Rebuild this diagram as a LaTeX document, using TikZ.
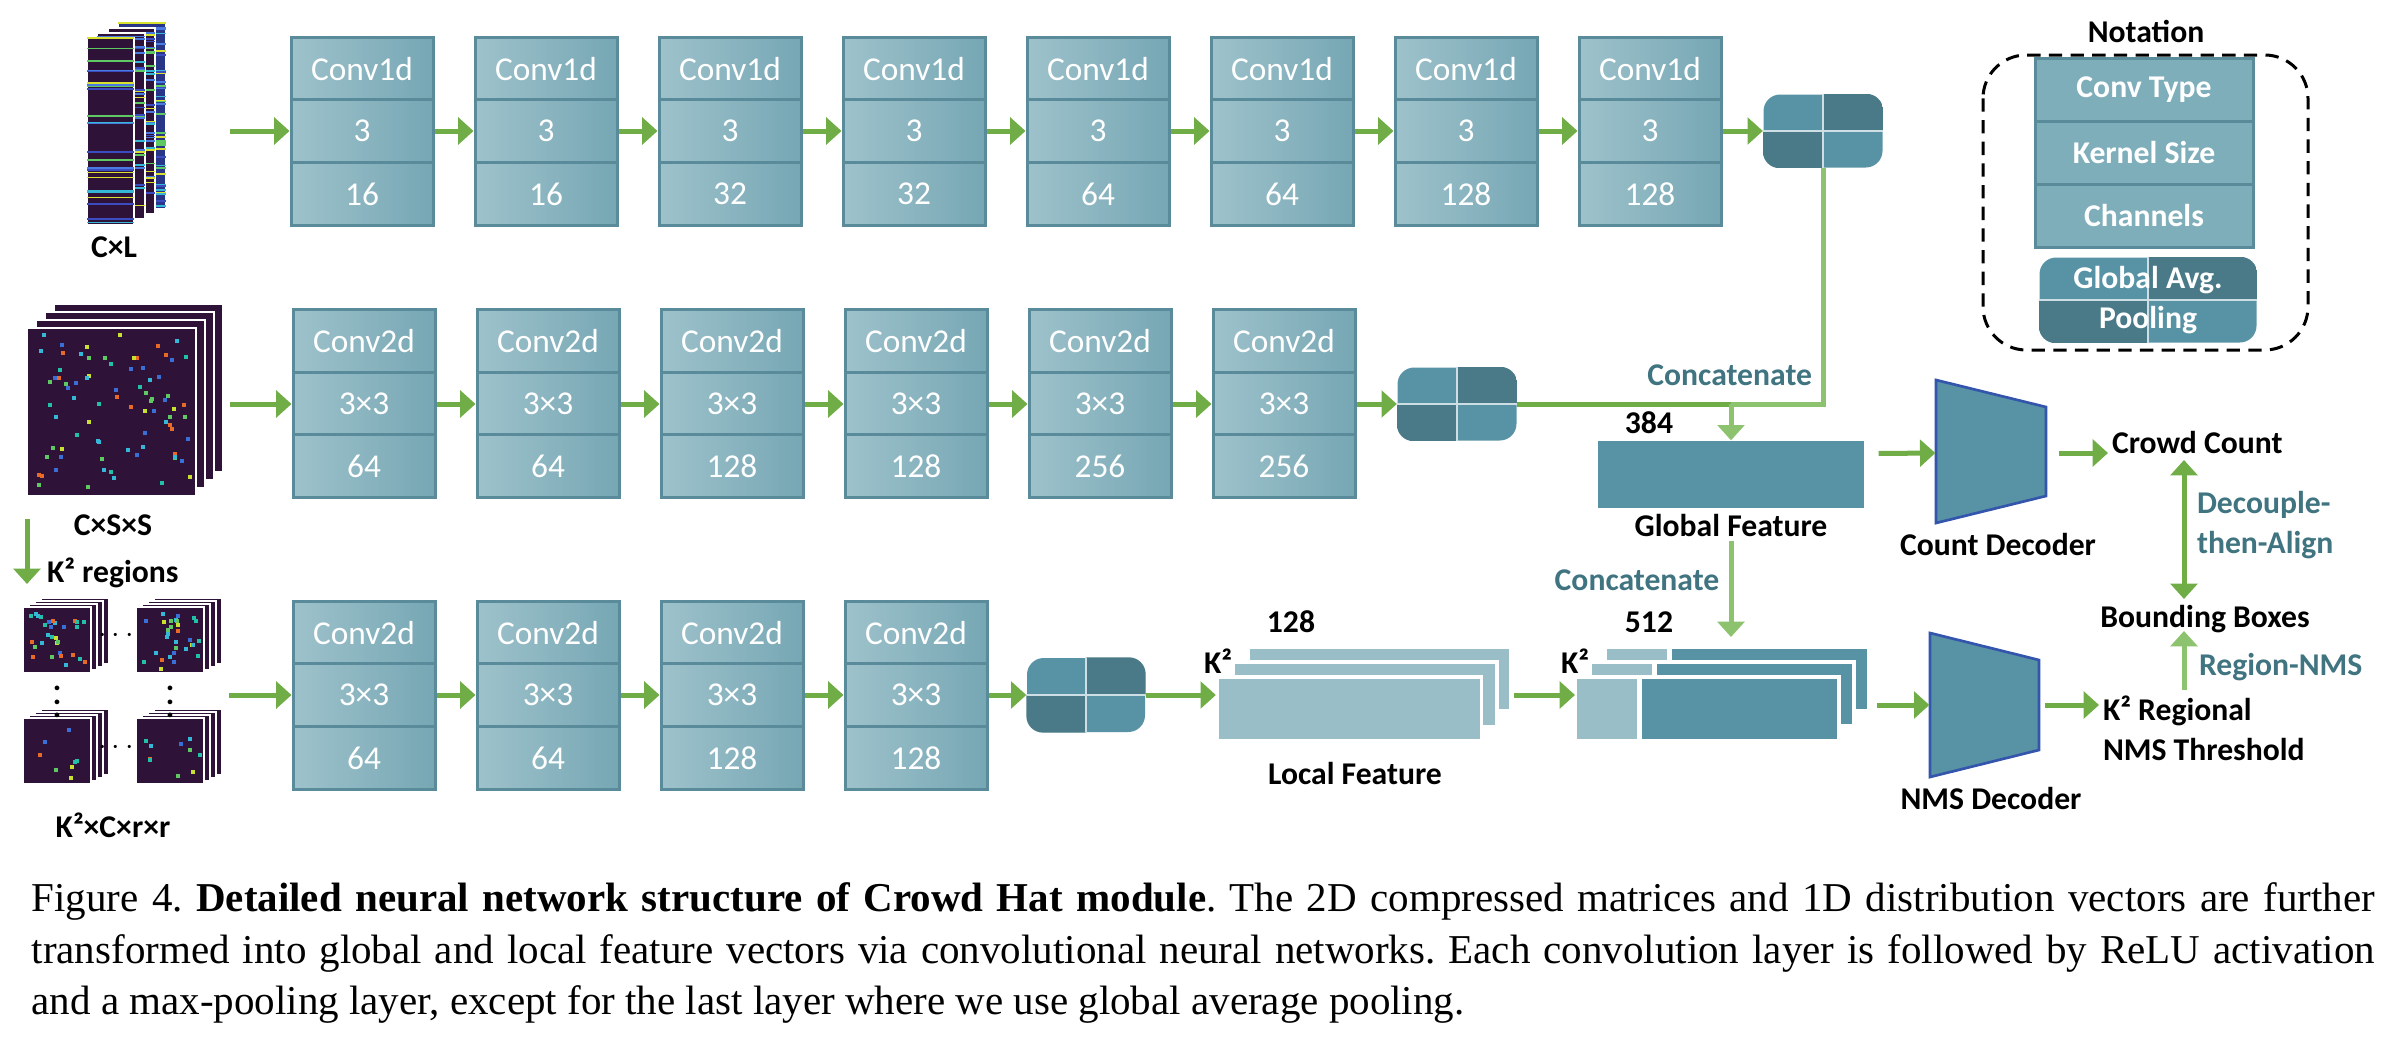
\documentclass[tikz,border=0pt]{standalone}
\usepackage{fontspec}
\setmainfont{Carlito}
\newfontfamily\capfont{Liberation Serif}
\usetikzlibrary{arrows.meta}
\definecolor{grn}{HTML}{70AD47}
\definecolor{grn2}{HTML}{8DC26F}
\definecolor{bord}{HTML}{5A8B9B}
\definecolor{cl}{HTML}{9EC2CB}
\definecolor{cr}{HTML}{76A7B4}
\definecolor{nc}{HTML}{7FAEBB}
\definecolor{pl}{HTML}{5893A5}
\definecolor{pd}{HTML}{4A7A88}
\definecolor{lf}{HTML}{9ABEC8}
\definecolor{teal1}{HTML}{3F7480}
\definecolor{imbg}{HTML}{2E1238}
\definecolor{dc1}{HTML}{35B7D8}
\definecolor{dc2}{HTML}{5EC962}
\definecolor{dc3}{HTML}{C8E030}
\definecolor{dc4}{HTML}{3B6FD8}
\definecolor{dc5}{HTML}{E86A28}
\definecolor{dc6}{HTML}{22C0A8}
\definecolor{hm1}{HTML}{3B4CC0}
\definecolor{hm2}{HTML}{4A7BE0}
\definecolor{hm3}{HTML}{35B7D8}
\definecolor{hm4}{HTML}{5EC962}
\definecolor{hm5}{HTML}{D8E030}
\newcommand\mysq[8]{%
 \foreach \L in {#6,...,1}{\filldraw[fill=imbg,draw=white,line width=0.6pt] ({#1+\L*#7},{#2-\L*#8}) rectangle ++(#3,#4);}
 \filldraw[fill=imbg,draw=white,line width=0.6pt] (#1,#2) rectangle ++(#3,#4);
 \foreach \k in {1,...,#5}{\pgfmathsetmacro\xx{#1+4+rnd*(#3-10)}\pgfmathsetmacro\yy{#2+4+rnd*(#4-10)}\pgfmathtruncatemacro\c{random(1,6)}\fill[dc\c] (\xx,\yy) rectangle ++(4,4);}
}
\newcommand\mystrip[6]{% x0 y0 x1 y1 bgcolor nlines
 \filldraw[fill=#5,draw=white,line width=0.5pt] (#1,#2) rectangle (#3,#4);
 \foreach \k in {1,...,#6}{\pgfmathsetmacro\yy{#2+rnd*(#4-#2)}\pgfmathtruncatemacro\c{random(1,5)}\draw[hm\c,line width=0.5pt] (#1,\yy) -- (#3,\yy);}
}
\newcommand\mypool[5]{% name cx cy w h
 \node[minimum width=#4*0.3pt,minimum height=#5*0.3pt,inner sep=0,rounded corners=5pt,fill=pl] (#1) at (#2,#3) {};
 \begin{scope}
 \clip[rounded corners=5pt] (#1.south west) rectangle (#1.north east);
 \fill[pd] (#1.north) rectangle (#1.east);
 \fill[pd] (#1.west) rectangle (#1.south);
 \draw[white!70!pl,line width=0.4pt] (#1.north)--(#1.south) (#1.west)--(#1.east);
 \end{scope}
}
\tikzset{
 cell/.style={draw=bord,line width=0.9pt,left color=cl,right color=cr,minimum width=42.6pt,minimum height=18.8pt,inner sep=0,text=white,font=\fontsize{10}{12}\selectfont},
 ncell/.style={draw=bord,line width=0.9pt,fill=nc,minimum width=65.4pt,minimum height=18.8pt,inner sep=0,text=white,font=\bfseries\fontsize{9.5}{11}\selectfont},
 arr/.style={draw=grn,line width=1.5pt,-{Triangle[width=8pt,length=4.6pt]}},
 arr2/.style={draw=grn2,line width=1.5pt,-{Triangle[width=8pt,length=4.6pt]}},
 lbl/.style={font=\bfseries\fontsize{9.5}{11}\selectfont,inner sep=1pt},
 tlbl/.style={lbl,text=teal1},
}
\begin{document}
\begin{tikzpicture}[x=0.3pt,y=-0.3pt]
\useasboundingbox (0,0) rectangle (2382,1056);
\pgfmathsetseed{7}
% heatmap strips
\mystrip{118}{22}{166}{209}{hm1!70!black}{40}
\mystrip{108}{28}{155}{214}{imbg}{35}
\mystrip{97}{33}{145}{219}{imbg}{30}
\mystrip{87}{38}{134}{225}{imbg}{25}
\node[lbl] (cl) at (114,247) {C×L};
% CxSxS
\mysq{27}{328}{169}{168}{80}{3}{9}{8}
\node[lbl] (css) at (113,525) {C×S×S};
\node[lbl,anchor=west] (kr) at (43,573) {K² regions};
\coordinate (ka) at (27,519);
\draw[arr] (ka) -- (27,584);
\mysq{23}{607}{68}{66}{30}{3}{6}{3}
\mysq{136}{607}{68}{66}{30}{3}{6}{3}
\mysq{23}{718}{68}{66}{8}{3}{6}{3}
\mysq{136}{718}{68}{66}{10}{3}{6}{3}
\node[lbl] (d1) at (116,636) {$\cdots$};
\node[lbl] (d2) at (116,748) {$\cdots$};
\node[lbl] (d3) at (57,692) {$\vdots$};
\node[lbl] (d4) at (170,692) {$\vdots$};
\node[lbl] (kc) at (113,825) {K²×C×r×r};
\coordinate (s1) at (230,131);
\coordinate (s2) at (230,404);
\coordinate (s3) at (229,695);
% row 1
\foreach \ch [count=\i] in {16,16,32,32,64,64,128,128}{
 \pgfmathsetmacro\xc{362+(\i-1)*184}
 \node[cell] (a\i) at (\xc,69) {Conv1d};
 \node[cell] (b\i) at (\xc,131) {3};
 \node[cell] (c\i) at (\xc,194) {\ch};
}
\foreach \i [evaluate=\i as \j using int(\i+1)] in {1,...,7}{\draw[arr] (b\i.east) -- (b\j.west);}
\draw[arr] (s1) -- (b1.west);
\mypool{p1}{1823}{131}{119}{73}
\draw[arr] (b8.east) -- (p1.west);
% row 2
\foreach \ch [count=\i] in {64,64,128,128,256,256}{
 \pgfmathsetmacro\xc{364+(\i-1)*184}
 \node[cell] (e\i) at (\xc,341) {Conv2d};
 \node[cell] (f\i) at (\xc,404) {3×3};
 \node[cell] (g\i) at (\xc,466) {\ch};
}
\foreach \i [evaluate=\i as \j using int(\i+1)] in {1,...,5}{\draw[arr] (f\i.east) -- (f\j.west);}
\draw[arr] (s2) -- (f1.west);
\mypool{p2}{1457}{404}{119}{73}
\draw[arr] (f6.east) -- (p2.west);
% row 3
\foreach \ch [count=\i] in {64,64,128,128}{
 \pgfmathsetmacro\xc{364+(\i-1)*184}
 \node[cell] (h\i) at (\xc,633) {Conv2d};
 \node[cell] (k\i) at (\xc,695) {3×3};
 \node[cell] (m\i) at (\xc,758) {\ch};
}
\foreach \i [evaluate=\i as \j using int(\i+1)] in {1,...,3}{\draw[arr] (k\i.east) -- (k\j.west);}
\draw[arr] (s3) -- (k1.west);
\mypool{p3}{1086}{695}{118}{74}
\draw[arr] (k4.east) -- (p3.west);
% global feature
\node[fill=pl,minimum width=79.8pt,minimum height=20.1pt,inner sep=0] (gf) at (1731,474.5) {};
\node[lbl] (n384) at (1649,423) {384};
\node[lbl] (gfl) at (1731,526) {Global Feature};
\draw[draw=grn,line width=1.5pt] (p2.east) -- (1826,404);
\draw[draw=grn2,line width=1.5pt] (p1.south) |- (gf.north |- p2.east);
\draw[arr2] (gf.north |- p2.east) -- (gf.north);
\node[tlbl,anchor=south east] (cat1) at (1816,390) {Concatenate};
% local feature
\filldraw[fill=lf,draw=white,line width=1pt] (1248,647) rectangle (1511,711);
\filldraw[fill=lf,draw=white,line width=1pt] (1233,662) rectangle (1497,727);
\node[fill=lf,draw=white,line width=1pt,minimum width=79.2pt,minimum height=19.2pt,inner sep=0] (lf) at (1349.5,709) {};
\node[lbl] (k2a) at (1218,661) {K²};
\node[lbl] (n128) at (1291,622) {128};
\node[lbl] (lfl) at (1355,773) {Local Feature};
\draw[arr] (p3.east) -- (p3.east -| lf.west);
% combined
\foreach \dx/\dy in {30/0,15/15}{
 \filldraw[fill=lf,draw=white,line width=1pt] ({1575+\dx},{647+\dy}) rectangle ({1639+\dx},{711+\dy});
 \filldraw[fill=pl,draw=white,line width=1pt] ({1640+\dx},{647+\dy}) rectangle ({1839+\dx},{711+\dy});
}
\filldraw[fill=lf,draw=white,line width=1pt] (1575,677) rectangle (1639,741);
\node[fill=pl,draw=white,line width=1pt,minimum width=59.7pt,minimum height=19.2pt,inner sep=0] (cf) at (1739.5,709) {};
\coordinate (cfw) at (1575,695);
\node[lbl] (k2b) at (1575,661) {K²};
\node[lbl] (n512) at (1649,622) {512};
\coordinate (cft) at (1731,637);
\coordinate (lfe) at (1514,695);
\draw[arr] (lfe) -- (cfw);
\draw[arr2] (gfl.south) -- (cft);
\node[tlbl] (cat2) at (1637,580) {Concatenate};
% count decoder
\filldraw[fill=pl,draw=pd!70!blue,line width=0.8pt] (1936,380) -- (2046,407) -- (2046,496) -- (1936,523) -- cycle;
\node[minimum width=33pt,minimum height=43pt,inner sep=0] (cd) at (1991,451) {};
\node[lbl] (cdl) at (1998,545) {Count Decoder};
\draw[arr] (gf.east) ++(14,-21) -- (cd.west |- 0,453);
\node[lbl,anchor=west] (cc) at (2108,443) {Crowd Count};
\draw[arr] (2059,453) -- (cc.west |- 0,453);
% NMS decoder
\filldraw[fill=pl,draw=pd!70!blue,line width=0.8pt] (1930,633) -- (2039,660) -- (2039,750) -- (1930,777) -- cycle;
\node[minimum width=33pt,minimum height=43pt,inner sep=0] (nd) at (1985,705) {};
\node[lbl] (ndl) at (1991,798) {NMS Decoder};
\draw[arr] (1877,705) -- (nd.west);
\node[lbl,anchor=west,align=left] (kt) at (2099,728) {K² Regional\\[1pt]NMS Threshold};
\draw[arr] (2045,705) -- (kt.west |- 0,705);
\node[lbl] (bb) at (2205,619) {Bounding Boxes};
\draw[arr2] (2184,690) -- (2184,631);
\node[tlbl,anchor=west] (rn) at (2195,667) {Region-NMS};
\draw[draw=grn,line width=1.5pt,{Triangle[width=8pt,length=4.6pt]}-{Triangle[width=8pt,length=4.6pt]}] (2184,460) -- (2184,599);
\node[tlbl,anchor=west,align=left] (dta) at (2193,525) {Decouple-\\[1pt]then-Align};
% notation
\draw[dashed,dash pattern=on 4pt off 2.5pt,line width=0.9pt,rounded corners=13pt] (1983,55) rectangle (2308,350);
\node[lbl] (nt) at (2146,31) {Notation};
\node[ncell] (nt1) at (2144,90) {Conv Type};
\node[ncell] (nt2) at (2144,153) {Kernel Size};
\node[ncell] (nt3) at (2144,216) {Channels};
\mypool{np}{2148}{300}{217}{85}
\node[lbl,text=white,align=center] (npt) at (2148,300) {Global Avg.\\[1pt]Pooling};
% caption
\node[anchor=north west,text width=703pt,align=justify,inner sep=0,font=\capfont\fontsize{12.3}{15.5}\selectfont] (cap) at (31,882) {\frenchspacing\fontsize{12.3}{15.5}\selectfont\hyphenpenalty=10000\tolerance=10000\spaceskip=0.25em plus 0.4em minus 0.1em Figure 4. \textbf{Detailed neural network structure of Crowd Hat module}. The 2D compressed matrices and 1D distribution vectors are further\linebreak transformed into global and local feature vectors via convolutional neural networks. Each convolution layer is followed by ReLU activation\linebreak and a max-pooling layer, except for the last layer where we use global average pooling.\par};
\end{tikzpicture}
\end{document}
